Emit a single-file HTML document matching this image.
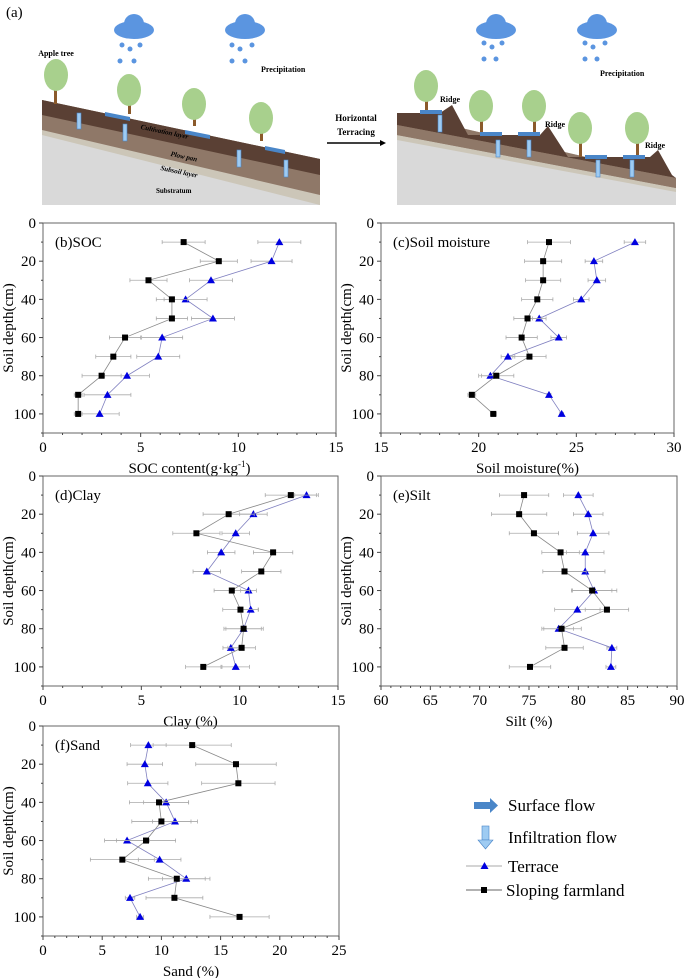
<!DOCTYPE html>
<html><head><meta charset="utf-8"><style>
body{margin:0;background:#fff;width:685px;height:978px;overflow:hidden;font-family:"Liberation Serif",serif}
svg{position:absolute;left:0;top:0}
</style></head><body>
<svg id="fig" width="685" height="978" viewBox="0 0 685 978" xmlns="http://www.w3.org/2000/svg" font-family="Liberation Serif, serif">
<g id="illus">
  <text x="6" y="17" font-size="15">(a)</text>
  <!-- left slope -->
  <polygon points="42,100 320,159 320,205 42,205" fill="#d9d9d9"/>
  <polygon points="42,100 320,159 320,205 42,135" fill="#ccc6b8"/>
  <polygon points="42,100 320,159 320,195 42,130" fill="#8f7868"/>
  <polygon points="42,100 320,159 320,175 42,115" fill="#5a4034"/>
  <text x="140" y="133" font-size="7" font-weight="bold" font-style="italic" transform="rotate(12 160 133)">Cultivation layer</text>
  <text x="170" y="158" font-size="7" font-weight="bold" font-style="italic" transform="rotate(12 180 158)">Plow pan</text>
  <text x="160" y="172" font-size="7" font-weight="bold" font-style="italic" transform="rotate(12 170 172)">Subsoil layer</text>
  <text x="156" y="193" font-size="7" font-weight="bold">Substratum</text>
  <!-- right terraced -->
  <polygon points="397,113 676,178 676,205 397,205" fill="#d9d9d9"/>
  <polygon points="397,113 676,178 676,192 397,140" fill="#ccc6b8"/>
  <polygon points="397,113 676,178 676,188 397,135" fill="#8f7868"/>
  <polygon points="397,113 440,113 452,105 468,135 540,135 548,126 568,157 600,157 650,157 658,150 672,175 676,178 397,125" fill="#5a4034"/>
  <polygon points="397,125 676,178 676,188 397,135" fill="#8f7868"/>
  <text x="440" y="102" font-size="8" font-weight="bold">Ridge</text>
  <text x="545" y="127" font-size="8" font-weight="bold">Ridge</text>
  <text x="645" y="148" font-size="8" font-weight="bold">Ridge</text>
  <!-- clouds -->
  <g fill="#5b95e0">
    <ellipse cx="134" cy="30" rx="20" ry="9"/><circle cx="134" cy="24" r="10"/>
    <ellipse cx="245" cy="30" rx="20" ry="9"/><circle cx="245" cy="24" r="10"/>
    <ellipse cx="496" cy="30" rx="20" ry="9"/><circle cx="496" cy="24" r="10"/>
    <ellipse cx="597" cy="30" rx="20" ry="9"/><circle cx="597" cy="24" r="10"/>
  </g>
  <g fill="#5b95e0">
    <circle cx="122" cy="45" r="2.5"/><circle cx="130" cy="49" r="2.5"/><circle cx="140" cy="45" r="2.5"/><circle cx="120" cy="61" r="2.5"/><circle cx="134" cy="61" r="2.5"/>
    <circle cx="232" cy="45" r="2.5"/><circle cx="240" cy="49" r="2.5"/><circle cx="252" cy="45" r="2.5"/><circle cx="232" cy="61" r="2.5"/><circle cx="245" cy="61" r="2.5"/>
    <circle cx="484" cy="43" r="2.5"/><circle cx="492" cy="47" r="2.5"/><circle cx="502" cy="43" r="2.5"/><circle cx="484" cy="59" r="2.5"/><circle cx="496" cy="59" r="2.5"/>
    <circle cx="585" cy="43" r="2.5"/><circle cx="593" cy="47" r="2.5"/><circle cx="605" cy="43" r="2.5"/><circle cx="585" cy="59" r="2.5"/><circle cx="597" cy="59" r="2.5"/>
  </g>
  <!-- trees -->
  <g>
    <rect x="54" y="80" width="3" height="24" fill="#8b5a2b"/><ellipse cx="56" cy="75" rx="12" ry="16" fill="#a8d08d"/>
    <rect x="128" y="98" width="3" height="16" fill="#8b5a2b"/><ellipse cx="129" cy="90" rx="12" ry="16" fill="#a8d08d"/>
    <rect x="193" y="112" width="3" height="14" fill="#8b5a2b"/><ellipse cx="194" cy="104" rx="12" ry="16" fill="#a8d08d"/>
    <rect x="260" y="127" width="3" height="14" fill="#8b5a2b"/><ellipse cx="261" cy="118" rx="12" ry="16" fill="#a8d08d"/>
    <rect x="425" y="95" width="3" height="18" fill="#8b5a2b"/><ellipse cx="426" cy="86" rx="12" ry="16" fill="#a8d08d"/>
    <rect x="480" y="115" width="3" height="20" fill="#8b5a2b"/><ellipse cx="481" cy="106" rx="12" ry="16" fill="#a8d08d"/>
    <rect x="533" y="115" width="3" height="20" fill="#8b5a2b"/><ellipse cx="534" cy="106" rx="12" ry="16" fill="#a8d08d"/>
    <rect x="579" y="135" width="3" height="22" fill="#8b5a2b"/><ellipse cx="580" cy="128" rx="12" ry="16" fill="#a8d08d"/>
    <rect x="636" y="135" width="3" height="22" fill="#8b5a2b"/><ellipse cx="637" cy="128" rx="12" ry="16" fill="#a8d08d"/>
  </g>
  <!-- arrows -->
  <g fill="#9ecbf2" stroke="#4a86c8" stroke-width="0.6">
    <rect x="77" y="113" width="4" height="16"/><rect x="123" y="124" width="4" height="17"/><rect x="237" y="150" width="4" height="17"/><rect x="284" y="160" width="4" height="17"/>
    <rect x="438" y="115" width="4" height="17"/><rect x="496" y="140" width="4" height="17"/><rect x="527" y="140" width="4" height="17"/><rect x="596" y="160" width="4" height="17"/><rect x="630" y="160" width="4" height="17"/>
  </g>
  <g fill="#4a86c8">
    <polygon points="105,112 130,117 130,121 105,116"/><polygon points="185,130 210,135 210,139 185,134"/><polygon points="265,146 285,150 285,154 265,150"/>
    <rect x="420" y="110" width="22" height="4"/><rect x="480" y="132" width="22" height="4"/><rect x="518" y="132" width="22" height="4"/><rect x="585" y="155" width="22" height="4"/><rect x="623" y="155" width="22" height="4"/>
  </g>
  <text x="56" y="56" font-size="8" font-weight="bold" text-anchor="middle">Apple tree</text>
  <text x="261" y="72" font-size="8" font-weight="bold">Precipitation</text>
  <text x="600" y="76" font-size="8" font-weight="bold">Precipitation</text>
  <text x="356" y="121" font-size="9" font-weight="bold" text-anchor="middle">Horizontal</text>
  <text x="356" y="135" font-size="9" font-weight="bold" text-anchor="middle">Terracing</text>
  <line x1="327" y1="143" x2="380" y2="143" stroke="#000" stroke-width="1.5"/>
  <polygon points="380,140 386,143 380,146" fill="#000"/>
</g>
<g id="charts"></g>
<g id="legend">
  <g>
    <rect x="474" y="802" width="16" height="7" fill="#4a86c8"/><polygon points="490,798 498,805.5 490,813" fill="#4a86c8"/>
    <text x="508" y="811" font-size="17">Surface flow</text>
  </g>
  <g>
    <rect x="482" y="826" width="7" height="14" fill="#9ecbf2" stroke="#4a86c8" stroke-width="0.6"/><polygon points="478,840 493,840 485.5,849" fill="#9ecbf2" stroke="#4a86c8" stroke-width="0.6"/>
    <text x="508" y="843" font-size="17">Infiltration flow</text>
  </g>
  <g>
    <line x1="466" y1="866" x2="502" y2="866" stroke="#aaa"/><polygon points="484.5,862 488.5,869 480.5,869" fill="#0000e0"/>
    <text x="508" y="872" font-size="17">Terrace</text>
  </g>
  <g>
    <line x1="466" y1="890" x2="502" y2="890" stroke="#666"/><rect x="481" y="887" width="6" height="6" fill="#000"/>
    <text x="506" y="896" font-size="17">Sloping farmland</text>
  </g>
</g>
</svg>
<script>
const depths = [10,20,30,40,50,60,70,80,90,100];
const socSlope = [7.2,9.0,5.4,6.6,6.6,4.2,3.6,3.0,1.8,1.8];
const socSlopeErr = [1.1,0.95,0.95,0.8,0.8,0.8,0.9,1.0,0.2,0.2];
const socTerr = [12.1,11.7,8.6,7.3,8.7,6.1,5.9,4.3,3.3,2.9];
const socTerrErr = [1.1,1.05,1.1,1.1,1.1,1.05,1.1,1.15,1.2,1.0];
const smSlope = [23.6,23.3,23.3,23.0,22.5,22.2,22.6,20.9,19.65,20.75];
const smSlopeErr = [1.1,0.95,0.9,0.8,0.7,0.8,0.85,0.9,0.2,0.15];
const smTerr = [28.0,25.9,26.05,25.25,23.1,24.1,21.5,20.6,23.6,24.25];
const smTerrErr = [0.55,0.45,0.45,0.4,0.35,0.4,0.35,0.45,0.1,0.1];
const claySlope = [12.6,9.44,7.8,11.7,11.1,9.6,10.04,10.2,10.1,8.15];
const claySlopeErr = [1.3,1.3,1.2,1.0,1.0,0.9,0.9,1.0,0.7,0.9];
const clayTerr = [13.4,10.7,9.8,9.06,8.33,10.45,10.56,10.2,9.55,9.8];
const clayTerrErr = [0.6,0.7,0.7,0.7,0.7,0.4,0.4,0.9,0.4,0.7];
const siltSlope = [74.5,74.0,75.5,78.2,78.6,81.4,82.9,78.3,78.6,75.1];
const siltSlopeErr = [2.5,2.8,2.5,1.9,2.2,2.0,2.2,2.0,1.9,2.1];
const siltTerr = [80.0,81.0,81.5,80.7,80.7,81.6,79.9,78.0,83.4,83.3];
const siltTerrErr = [1.5,1.5,1.6,1.9,2.0,2.3,2.3,1.5,0.5,0.5];
const sandSlope = [12.6,16.3,16.5,9.8,10.0,8.7,6.7,11.3,11.1,16.6];
const sandSlopeErr = [3.3,3.4,3.1,2.5,2.5,2.5,2.7,2.4,2.4,2.5];
const sandTerr = [8.9,8.6,8.85,10.4,11.15,7.1,9.85,12.1,7.35,8.2];
const sandTerrErr = [1.5,1.5,1.7,1.9,1.9,1.9,1.8,2.0,0.4,0.3];
const yTicks = [0,20,40,60,80,100];
const ticksSOC = [0,5,10,15];
const ticksSM = [15,20,25,30];
const ticksClay = [0,5,10,15];
const ticksSilt = [60,65,70,75,80,85,90];
const ticksSand = [0,5,10,15,20,25];

const NS='http://www.w3.org/2000/svg';
const root=document.getElementById('charts');
function mk(tag,attrs,parent){const e=document.createElementNS(NS,tag);for(const k in attrs)e.setAttribute(k,attrs[k]);parent.appendChild(e);return e;}

function panel(o){
  const g=mk('g',{},root);
  
  
  const L=o.x0,R=o.x1,T=o.top,B=o.top+210;
  const xs=v=>L+(v-o.xmin)/(o.xmax-o.xmin)*(R-L);
  const ys=d=>T+d/110*(B-T);
  const frame=mk('rect',{x:L,y:T,width:R-L,height:B-T,fill:'none',stroke:'#666','stroke-width':1},g);
  
  
  // y ticks
  yTicks.forEach(t=>{
    mk('line',{x1:L-4,y1:ys(t),x2:L,y2:ys(t),stroke:'#444'},g);
    const tx=mk('text',{x:L-7,y:ys(t)+5,'font-size':15,'text-anchor':'end'},g);tx.textContent=t;
    
    
  });
  for(let t=10;t<=110;t+=20) mk('line',{x1:L-2,y1:ys(t),x2:L,y2:ys(t),stroke:'#444'},g);
  // x ticks
  const step=o.ticks[1]-o.ticks[0];
  o.ticks.forEach((t,i)=>{
    mk('line',{x1:xs(t),y1:B,x2:xs(t),y2:B+4,stroke:'#444'},g);
    const tx=mk('text',{x:xs(t),y:B+19,'font-size':15,'text-anchor':'middle'},g);tx.textContent=t;
    
    
    if(i<o.ticks.length-1){for(let k=1;k<5;k++){const v=t+step*k/5;mk('line',{x1:xs(v),y1:B,x2:xs(v),y2:B+2,stroke:'#444'},g);}}
  });
  const xt=mk('text',{x:(L+R)/2,y:B+40,'font-size':15,'text-anchor':'middle'},g);xt.innerHTML=o.xtitle;
  
  
  const yt=mk('text',{x:0,y:0,'font-size':15,'text-anchor':'middle',transform:`translate(${L-30},${T+105}) rotate(-90)`},g);yt.textContent='Soil depth(cm)';
  
  
  const pl=mk('text',{x:L+12,y:T+24,'font-size':15},g);pl.textContent=o.label;
  
  
  const series=[[o.terr,o.terrErr,'terrace','#8080c0'],[o.slope,o.slopeErr,'sloping','#888']];
  series.forEach(([vals,errs,nm,lc])=>{
    const sg=mk('g',{},g);
    
    
    vals.forEach((v,i)=>{
      const y=ys(depths[i]);
      mk('line',{x1:xs(v-errs[i]),y1:y,x2:xs(v+errs[i]),y2:y,stroke:'#aaa','stroke-width':0.8},sg);
      mk('line',{x1:xs(v-errs[i]),y1:y-2,x2:xs(v-errs[i]),y2:y+2,stroke:'#aaa','stroke-width':0.8},sg);
      mk('line',{x1:xs(v+errs[i]),y1:y-2,x2:xs(v+errs[i]),y2:y+2,stroke:'#aaa','stroke-width':0.8},sg);
    });
    mk('polyline',{points:vals.map((v,i)=>xs(v)+','+ys(depths[i])).join(' '),fill:'none',stroke:lc,'stroke-width':0.8},sg);
    vals.forEach((v,i)=>{
      const x=xs(v),y=ys(depths[i]);let m;
      if(nm==='terrace'){m=mk('polygon',{points:`${x},${y-4} ${x+4},${y+3} ${x-4},${y+3}`,fill:'#0000e0'},sg);}
      else{m=mk('rect',{x:x-3,y:y-3,width:6,height:6,fill:'#000'},sg);}
      
      
    });
  });
}
panel({name:'soc-chart',x0:43,x1:336,top:223,xmin:0,xmax:15,ticks:ticksSOC,xtitle:'SOC content(g·kg<tspan font-size="9" dy="-6">-1</tspan><tspan dy="6">)</tspan>',label:'(b)SOC',slope:socSlope,slopeErr:socSlopeErr,terr:socTerr,terrErr:socTerrErr});
panel({name:'soil-moisture-chart',x0:381,x1:674,top:223,xmin:15,xmax:30,ticks:ticksSM,xtitle:'Soil moisture(%)',label:'(c)Soil moisture',slope:smSlope,slopeErr:smSlopeErr,terr:smTerr,terrErr:smTerrErr});
panel({name:'clay-chart',x0:43,x1:338,top:476,xmin:0,xmax:15,ticks:ticksClay,xtitle:'Clay (%)',label:'(d)Clay',slope:claySlope,slopeErr:claySlopeErr,terr:clayTerr,terrErr:clayTerrErr});
panel({name:'silt-chart',x0:381,x1:677,top:476,xmin:60,xmax:90,ticks:ticksSilt,xtitle:'Silt (%)',label:'(e)Silt',slope:siltSlope,slopeErr:siltSlopeErr,terr:siltTerr,terrErr:siltTerrErr});
panel({name:'sand-chart',x0:43,x1:339,top:726,xmin:0,xmax:25,ticks:ticksSand,xtitle:'Sand (%)',label:'(f)Sand',slope:sandSlope,slopeErr:sandSlopeErr,terr:sandTerr,terrErr:sandTerrErr});
</script>
</body></html>
